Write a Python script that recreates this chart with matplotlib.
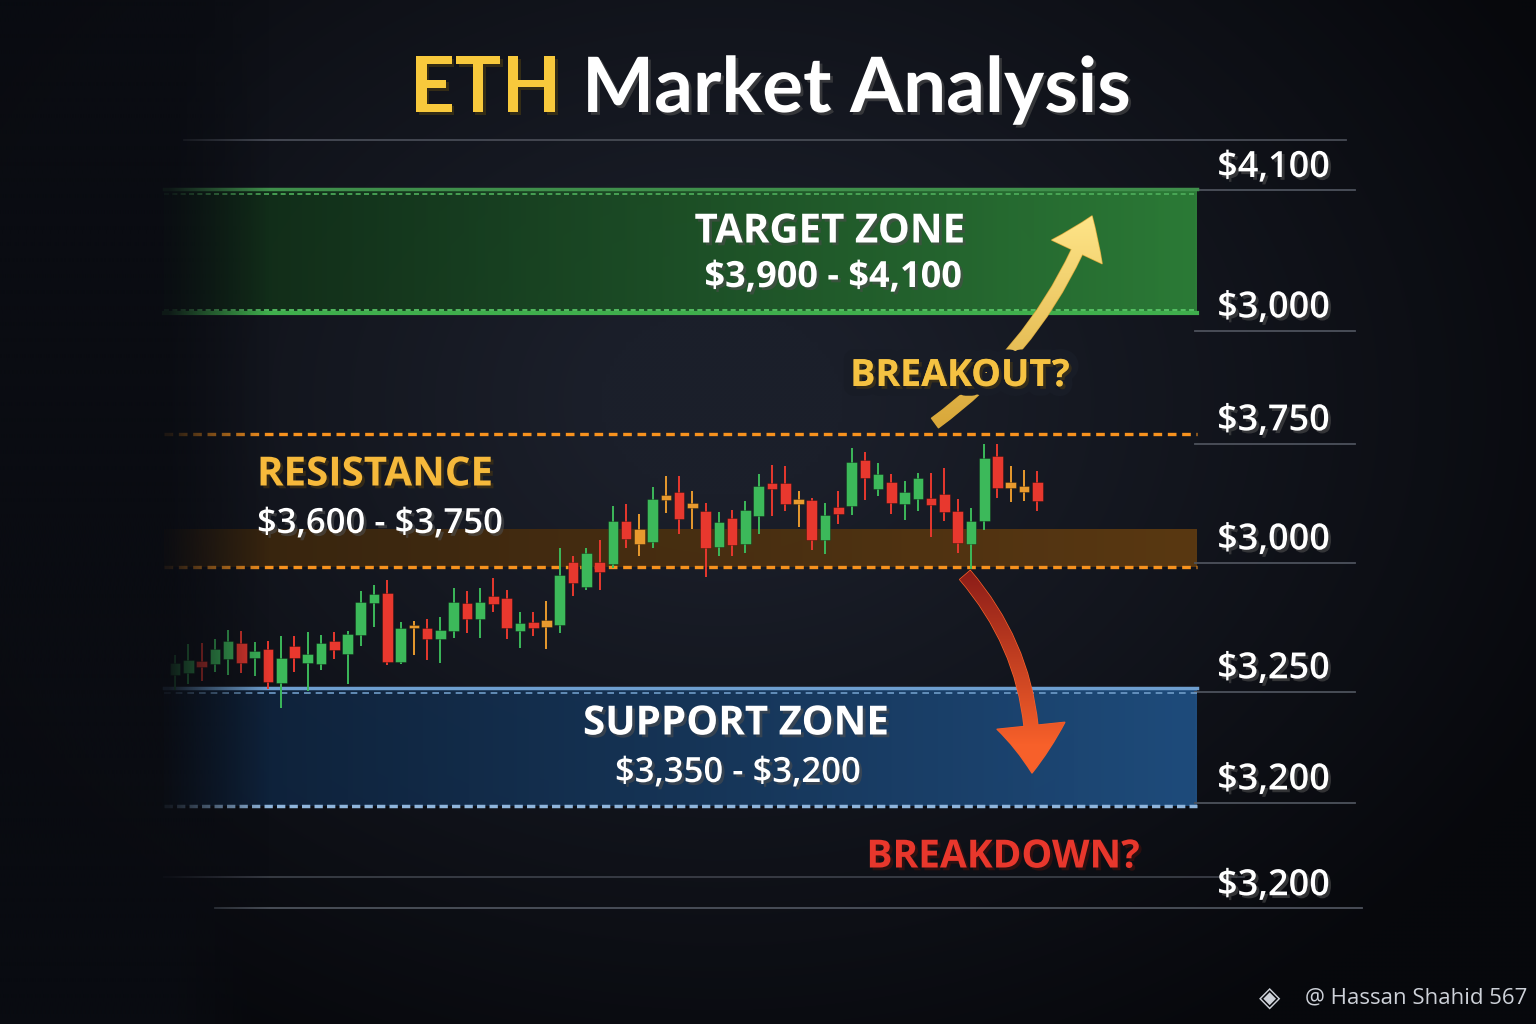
import numpy as np
import matplotlib.pyplot as plt
import matplotlib.patheffects as pe
from matplotlib.colors import to_rgb
from matplotlib.patches import FancyArrowPatch

plt.rcParams['font.family'] = ['Open Sans', 'DejaVu Sans']

# ---- candle data (price) ----
opens = [3479, 3481, 3494, 3491, 3497, 3515, 3498, 3508, 3470, 3511,
         3492, 3491, 3517, 3502, 3524, 3560, 3571, 3493, 3531, 3531,
         3519, 3528, 3560, 3542, 3567, 3565, 3528, 3538, 3533, 3535,
         3606, 3578, 3606, 3604, 3652, 3626, 3628, 3675, 3684, 3666,
         3663, 3623, 3655, 3626, 3658, 3695, 3695, 3671, 3676, 3631,
         3668, 3669, 3720, 3688, 3696, 3671, 3677, 3678, 3682, 3663,
         3626, 3652, 3725, 3689, 3691, 3696]
highs = [3501, 3513, 3515, 3519, 3529, 3528, 3516, 3517, 3523, 3522,
         3527, 3524, 3527, 3528, 3573, 3580, 3585, 3538, 3539, 3542,
         3544, 3576, 3573, 3576, 3588, 3574, 3549, 3549, 3562, 3622,
         3613, 3622, 3630, 3669, 3671, 3660, 3690, 3702, 3703, 3686,
         3672, 3662, 3664, 3674, 3705, 3715, 3714, 3686, 3678, 3672,
         3686, 3734, 3729, 3717, 3705, 3697, 3706, 3706, 3711, 3677,
         3666, 3739, 3739, 3714, 3709, 3708]
lows = [3462, 3469, 3472, 3482, 3479, 3481, 3478, 3463, 3442, 3482,
        3461, 3484, 3497, 3469, 3511, 3533, 3490, 3491, 3501, 3496,
        3492, 3520, 3526, 3520, 3549, 3519, 3509, 3523, 3508, 3526,
        3568, 3574, 3574, 3599, 3621, 3612, 3622, 3661, 3637, 3643,
        3589, 3613, 3612, 3616, 3637, 3658, 3663, 3645, 3619, 3615,
        3648, 3659, 3676, 3680, 3660, 3653, 3663, 3634, 3652, 3616,
        3598, 3642, 3678, 3673, 3674, 3663]
closes = [3492, 3495, 3488, 3508, 3517, 3492, 3506, 3471, 3498, 3498,
          3502, 3515, 3507, 3525, 3561, 3570, 3493, 3532, 3535, 3519,
          3529, 3561, 3542, 3561, 3558, 3531, 3537, 3531, 3541, 3591,
          3582, 3616, 3595, 3652, 3632, 3643, 3677, 3681, 3654, 3672,
          3621, 3651, 3625, 3664, 3691, 3688, 3671, 3677, 3631, 3659,
          3660, 3718, 3700, 3705, 3672, 3684, 3700, 3670, 3662, 3627,
          3652, 3723, 3689, 3696, 3685, 3674]
doji = [18, 28, 35, 37, 39, 47, 63, 64]

# ---- zones / levels (price) ----
target_zone = (3886, 4025)
resist_band = (3600, 3642)
resist_lines = [3750, 3600]
support_zone = (3331, 3464)

tick_levels = [4024, 3866, 3739, 3605, 3460, 3335, 3216]
tick_labels = ['$4,100', '$3,000', '$3,750', '$3,000', '$3,250', '$3,200', '$3,200']

W, H = 1536, 1024
XLIM = (-13.2, 102.6)
YLIM = (3086, 4238)
ZL, ZR = 0.107, 0.779          # zone left / right (axes fraction)

fig = plt.figure(figsize=(W / 100, H / 100), dpi=100)
fig.patch.set_facecolor('#0b0d13')

# background vignette
yy, xx = np.mgrid[0:H:4, 0:W:4]
r = np.sqrt(((xx - 720) / 820.0) ** 2 + ((yy - 400) / 640.0) ** 2)
mix = np.clip(1.15 - r, 0, 1)[..., None]
c_mid, c_edge = np.array(to_rgb('#1b1f2a')), np.array(to_rgb('#07080c'))
bg = c_edge + (c_mid - c_edge) * mix
bg_ax = fig.add_axes([0, 0, 1, 1])
bg_ax.imshow(bg, extent=[0, 1, 0, 1], aspect='auto', interpolation='bilinear')
bg_ax.axis('off')

ax = fig.add_axes([0, 0, 1, 1])
ax.set_xlim(*XLIM)
ax.set_ylim(*YLIM)
ax.set_autoscale_on(False)
ax.axis('off')
ax.patch.set_alpha(0)


def fx(frac):
    return XLIM[0] + (XLIM[1] - XLIM[0]) * frac


def band(lo, hi, c0, c1, a0, a1, z):
    t = np.linspace(0, 1, 256)
    rgba = np.zeros((1, 256, 4))
    rgba[0, :, :3] = np.outer(1 - t, to_rgb(c0)) + np.outer(t, to_rgb(c1))
    rgba[0, :, 3] = a0 + (a1 - a0) * t
    ax.imshow(rgba, extent=[fx(ZL), fx(ZR), lo, hi], aspect='auto',
              interpolation='bilinear', zorder=z)


# target zone
band(*target_zone, '#0f2816', '#2c7b37', 0.9, 1.0, 1)
ax.axhline(target_zone[1], ZL, ZR, color='#3f8f4b', lw=2.5, zorder=2)
ax.axhline(target_zone[1] - 5, ZL, ZR, color='#4fb05c', lw=1.2, ls=(0, (3, 2)), zorder=2)
ax.axhline(target_zone[0], ZL, ZR, color='#3fae4c', lw=3, zorder=2)
ax.axhline(target_zone[0] + 3, ZL, ZR, color='#5ccc6a', lw=1.2, ls=(0, (3, 2)), zorder=2)

# resistance band
band(*resist_band, '#3c260c', '#5e3b12', 0.85, 0.95, 1)
for lvl in resist_lines:
    ax.axhline(lvl, ZL, ZR, color='#f7921e', lw=2.4, ls=(0, (2.6, 1.7)), zorder=2)

# support zone
band(*support_zone, '#0e2038', '#1f4c7c', 0.9, 1.0, 1)
ax.axhline(support_zone[1], ZL, ZR, color='#6e9fd0', lw=2.5, zorder=2)
ax.axhline(support_zone[1] - 6, ZL, ZR, color='#6f9cc8', lw=1.2, ls=(0, (4, 3)), zorder=2)
ax.axhline(support_zone[0], ZL, ZR, color='#8fb5dc', lw=2.5, ls=(0, (2.4, 1.2)), zorder=2)

shadow = [pe.withSimplePatchShadow(offset=(2, -2), alpha=0.6)]

# grid lines by the price labels
for lvl, lbl in zip(tick_levels, tick_labels):
    x0 = 0.14 if lvl == tick_levels[-1] else 0.778
    x1 = 0.887 if lvl == tick_levels[-1] else 0.882
    ax.axhline(lvl, x0, x1, color='#4d525c', lw=1.3, zorder=1)
    ax.annotate(lbl, xy=(0.829, lvl), xycoords=ax.get_yaxis_transform(),
                xytext=(0, 16), textcoords='offset points', ha='center', va='center',
                fontsize=26, weight='semibold', color='white', zorder=9,
                parse_math=False, path_effects=shadow)
# divider under the title and faint line above the bottom one
ax.axhline(4081, 0.12, 0.876, color='#474b55', lw=1.3, zorder=1)
ax.axhline(3251, 0.107, 0.81, color='#3e424b', lw=1.2, zorder=1)

# candles
x = np.arange(len(opens))
o, h, l, c = map(np.array, (opens, highs, lows, closes))
cols = np.where(c >= o, '#3cb95a', '#e8382e').astype(object)
cols[doji] = '#e89a2e'
ax.vlines(x, l, h, colors=list(cols), lw=1.4, zorder=3)
ax.bar(x, np.maximum(np.abs(c - o), 4), bottom=np.minimum(o, c), width=0.8,
       color=list(cols), edgecolor='#00000055', lw=0.6, zorder=4)

# left fade
fade = np.zeros((1, 200, 4))
fade[0, :, :3] = to_rgb('#0a0c12')
fade[0, :, 3] = np.clip((270 - np.linspace(0, 320, 200)) / 110.0, 0, 0.92)
ax.imshow(fade, extent=[fx(0), fx(320 / W), YLIM[0], YLIM[1]], aspect='auto',
          interpolation='bilinear', zorder=6)


def grad_arrow(p0, p1, rad, style, c_top, c_bot, ylo, yhi):
    arr = FancyArrowPatch((p0[0] / W, 1 - p0[1] / H), (p1[0] / W, 1 - p1[1] / H),
                          transform=fig.transFigure, connectionstyle='arc3,rad=%g' % rad,
                          arrowstyle=style, mutation_scale=10, color=c_bot,
                          shrinkA=0, shrinkB=0, zorder=7)
    ax.add_patch(arr)
    t = np.linspace(0, 1, 128)[:, None]
    img = np.zeros((128, 1, 4))
    img[:, 0, :3] = (1 - t) * np.array(to_rgb(c_top)) + t * np.array(to_rgb(c_bot))
    img[:, 0, 3] = 1
    im = ax.imshow(img, extent=[XLIM[0], XLIM[1], ylo, yhi], aspect='auto',
                   interpolation='bilinear', zorder=7.5)
    im.set_clip_path(arr)
    return arr


# arrows (gradients run over the arrow's price span)
grad_arrow((935, 423), (1092, 216), 0.15,
           'simple,head_width=4.0,head_length=2.8,tail_width=0.85',
           '#ffe68a', '#d9a83a', 3760, 4000)
grad_arrow((965, 575), (1032, 773), -0.2,
           'simple,head_width=4.9,head_length=3.4,tail_width=1.0',
           '#8c1d18', '#f7602a', 3400, 3595)


def label(px, py, s, size, color='white', weight='bold', effects=shadow, **kw):
    fig.text(px / W, 1 - py / H, s, ha='center', va='center', fontsize=size,
             color=color, weight=weight, path_effects=effects, zorder=9,
             parse_math=False, **kw)


# title
fig.text(561 / W, 1 - 112 / H, 'ETH', ha='right', va='baseline', fontsize=56,
         weight='bold', family=['Lato', 'DejaVu Sans'], color='#f8c93c',
         path_effects=shadow)
fig.text(582 / W, 1 - 112 / H, 'Market Analysis', ha='left', va='baseline', fontsize=55,
         weight='bold', family=['Lato', 'DejaVu Sans'], color='white', path_effects=shadow)

label(830, 232, 'TARGET ZONE', 29)
label(833, 278, '$3,900 - $4,100', 26)
label(375, 475, 'RESISTANCE', 29, color='#f6b93b')
label(380, 524, '$3,600 - $3,750', 25, weight='semibold')
label(960, 376, 'BREAKOUT?', 27, color='#f5c242',
      effects=[pe.withStroke(linewidth=14, foreground='#181c26'),
               pe.withSimplePatchShadow(offset=(2, -2), alpha=0.6)])
label(736, 724, 'SUPPORT ZONE', 29)
label(738, 773, '$3,350 - $3,200', 25, weight='semibold')
label(1003, 857, 'BREAKDOWN?', 28, color='#e8372c')

# watermark
fig.text(1527 / W, 1 - 998 / H, '@ Hassan Shahid 567', ha='right', va='center',
         fontsize=16, color='#cdd1d8')
fig.text(1270 / W, 1 - 998 / H, '\u25c8', ha='center', va='center', fontsize=20,
         color='#cdd1d8', family='DejaVu Sans')

fig.savefig('out.png', dpi=100, facecolor=fig.get_facecolor())
